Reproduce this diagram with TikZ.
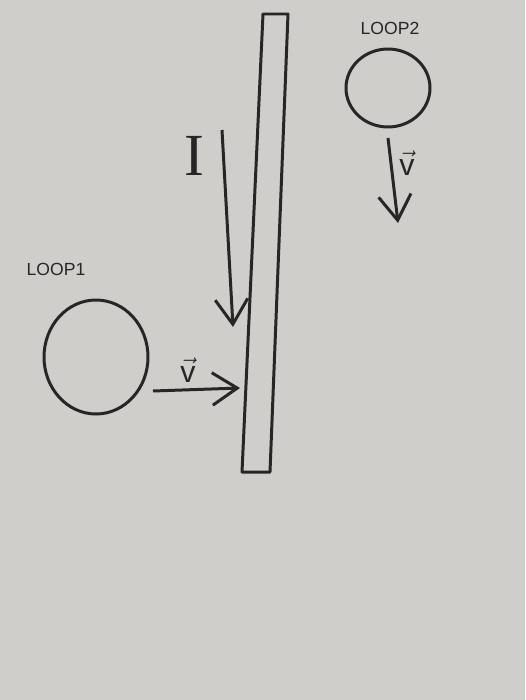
\documentclass[tikz,border=0pt]{standalone}
\usepackage{fontspec}
\setmainfont{Liberation Sans}
\newfontfamily\serifpen{Liberation Serif}
\usetikzlibrary{arrows.meta}
\definecolor{paper}{RGB}{208,206,202}
\definecolor{pen}{RGB}{38,38,38}
\tikzset{
  ink/.style={draw=pen, line width=1.7pt},
  label/.style={text=pen, font=\normalsize},
  vlabel/.style={text=pen, font=\LARGE},
  vel/.style={ink, -{Straight Barb[length=0.5cm,width=0.65cm,line width=1.7pt]}}
}
\begin{document}
\begin{tikzpicture}[x=0.02cm,y=-0.02cm]
  \fill[paper] (0,0) rectangle (525,700);
  \useasboundingbox (0,0) rectangle (525,700);
  % wire
  \draw[ink, line join=round]
    (263,14) -- (288,14) -- (270,472) -- (242,472) -- cycle;
  % loops
  \draw[ink] (388,88) ellipse [x radius=42, y radius=39];
  \draw[ink] (96,357) ellipse [x radius=52, y radius=57];
  \draw
    (390,28) node[label] (loop2){LOOP2}
    (56,269) node[label] (loop1){LOOP1}
    (194,156) node[text=pen, font=\serifpen\fontsize{34}{34}\selectfont] (cur){I}
    (407,163) node[vlabel] (v2){$\vec{\mathrm{v}}$}
    (188,370) node[vlabel] (v1){$\vec{\mathrm{v}}$};
  \coordinate (a0) at (222,130);
  \coordinate (a1) at (233,327);
  \coordinate (b0) at (388,138);
  \coordinate (b1) at (398,223);
  \coordinate (c0) at (153,391);
  \coordinate (c1) at (240,388);
  \begin{scope}[vel]
    \draw (a0) to (a1);
    \draw (b0) to (b1);
    \draw (c0) to (c1);
  \end{scope}
\end{tikzpicture}
\end{document}
